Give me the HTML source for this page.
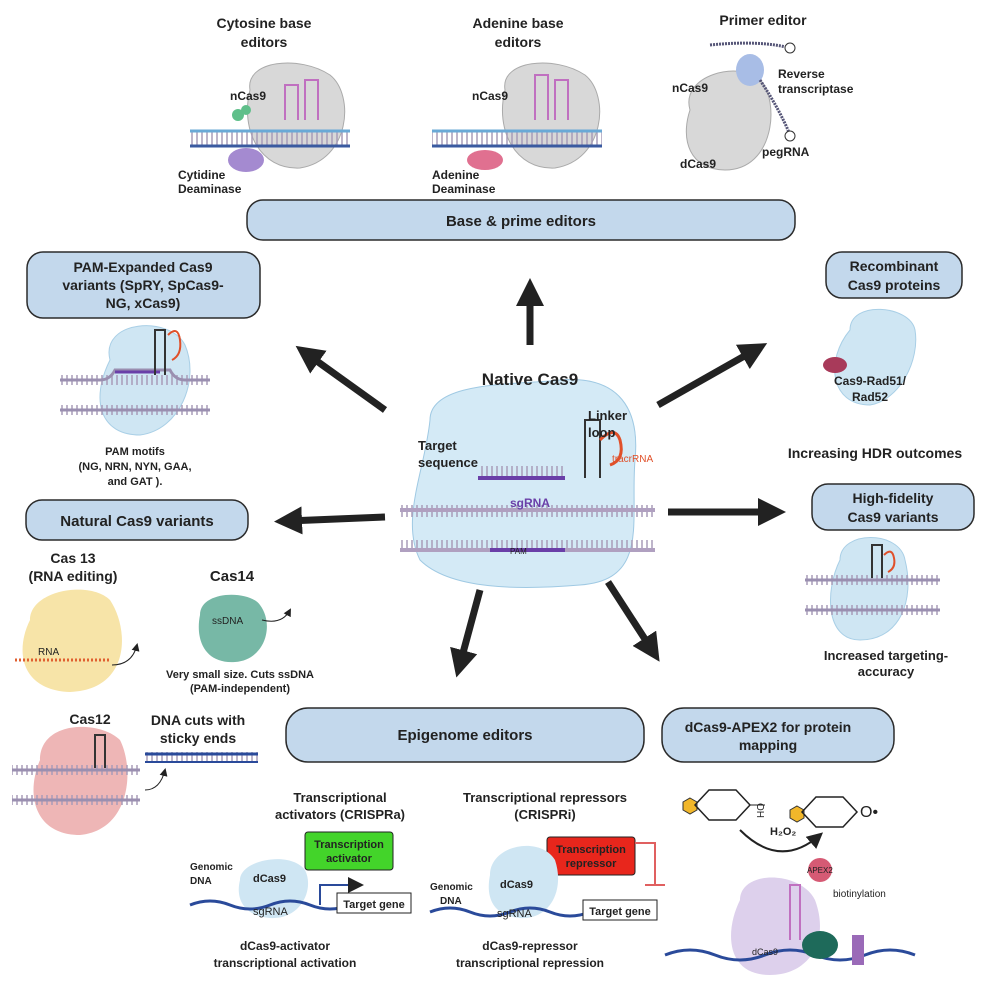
<!DOCTYPE html>
<html><head><meta charset="utf-8"><style>
body{margin:0;background:#fff}
svg{display:block}
text{font-family:"Liberation Sans",Arial,sans-serif;fill:#222}
.b{font-weight:bold}
.box{fill:#c3d8ec;stroke:#2b2b2b;stroke-width:1.5}
.ar{stroke:#222;stroke-width:7;fill:none}
.lad{stroke:#a89cb8;stroke-width:1.5}
</style></head><body>
<svg width="1000" height="1000" viewBox="0 0 1000 1000" xmlns="http://www.w3.org/2000/svg">
<defs>
<marker id="ah" markerWidth="4" markerHeight="4" refX="2" refY="2" orient="auto" markerUnits="strokeWidth"><path d="M0,0 L4,2 L0,4 z" fill="#222"/></marker>
<marker id="sa" markerWidth="8" markerHeight="8" refX="6" refY="4" orient="auto"><path d="M0,0 L8,4 L0,8 z" fill="#222"/></marker>
<pattern id="rung" width="5" height="10" patternUnits="userSpaceOnUse"><line x1="2" y1="0" x2="2" y2="10" stroke="#a89cb8" stroke-width="1.5"/></pattern>
</defs>

<!-- top editors -->
<text x="264" y="28" class="b" font-size="14" text-anchor="middle">Cytosine base</text>
<text x="264" y="47" class="b" font-size="14" text-anchor="middle">editors</text>
<path d="M250,90 C245,60 300,55 330,75 C355,95 350,160 300,168 C260,170 240,130 250,90z" fill="#d8d8d8" stroke="#aaa"/>
<rect x="190" y="131" width="160" height="14" fill="url(#rung)"/>
<line x1="190" y1="131" x2="350" y2="131" stroke="#6aa9d6" stroke-width="3"/>
<line x1="190" y1="146" x2="350" y2="146" stroke="#3a5aa0" stroke-width="3"/>
<ellipse cx="246" cy="160" rx="18" ry="12" fill="#a48ad0"/>
<circle cx="238" cy="115" r="6" fill="#5fbf8a"/><circle cx="246" cy="110" r="5" fill="#5fbf8a"/>
<path d="M285,120 V85 H298 V120 M305,120 V80 H318 V120" stroke="#c070c0" stroke-width="2" fill="none"/>
<text x="230" y="100" class="b" font-size="12">nCas9</text>
<text x="178" y="179" class="b" font-size="12">Cytidine</text>
<text x="178" y="193" class="b" font-size="12">Deaminase</text>

<text x="518" y="28" class="b" font-size="14" text-anchor="middle">Adenine base</text>
<text x="518" y="47" class="b" font-size="14" text-anchor="middle">editors</text>
<path d="M505,90 C500,60 555,55 585,75 C610,95 605,160 555,168 C515,170 495,130 505,90z" fill="#d8d8d8" stroke="#aaa"/>
<rect x="432" y="131" width="170" height="14" fill="url(#rung)"/>
<line x1="432" y1="131" x2="602" y2="131" stroke="#6aa9d6" stroke-width="3"/>
<line x1="432" y1="146" x2="602" y2="146" stroke="#3a5aa0" stroke-width="3"/>
<ellipse cx="485" cy="160" rx="18" ry="10" fill="#e07090"/>
<path d="M535,120 V75 H548 V120 M555,120 V80 H568 V120" stroke="#c070c0" stroke-width="2" fill="none"/>
<text x="472" y="100" class="b" font-size="12">nCas9</text>
<text x="432" y="179" class="b" font-size="12">Adenine</text>
<text x="432" y="193" class="b" font-size="12">Deaminase</text>

<text x="763" y="25" class="b" font-size="14" text-anchor="middle">Primer editor</text>
<path d="M690,110 C680,75 740,60 760,80 C780,100 775,170 725,170 C690,170 680,140 690,110z" fill="#d8d8d8" stroke="#aaa"/>
<ellipse cx="750" cy="70" rx="14" ry="16" fill="#a8bde6"/>
<path d="M710,45 Q760,40 790,48 M760,80 Q780,110 790,135" stroke="#557" stroke-width="3" fill="none" stroke-dasharray="2 1"/>
<circle cx="790" cy="48" r="5" fill="#fff" stroke="#333"/><circle cx="790" cy="136" r="5" fill="#fff" stroke="#333"/>
<text x="672" y="92" class="b" font-size="12">nCas9</text>
<text x="778" y="78" class="b" font-size="12">Reverse</text>
<text x="778" y="93" class="b" font-size="12">transcriptase</text>
<text x="680" y="168" class="b" font-size="12">dCas9</text>
<text x="762" y="156" class="b" font-size="12">pegRNA</text>

<rect class="box" x="247" y="200" width="548" height="40" rx="16"/>
<text x="521" y="226" class="b" font-size="15" text-anchor="middle">Base  &amp; prime editors</text>

<rect class="box" x="27" y="252" width="233" height="66" rx="16"/>
<text x="143" y="272" class="b" font-size="14" text-anchor="middle">PAM-Expanded Cas9</text>
<text x="143" y="290" class="b" font-size="14" text-anchor="middle">variants (SpRY, SpCas9-</text>
<text x="143" y="308" class="b" font-size="14" text-anchor="middle">NG, xCas9)</text>

<rect class="box" x="826" y="252" width="136" height="46" rx="16"/>
<text x="894" y="271" class="b" font-size="14" text-anchor="middle">Recombinant</text>
<text x="894" y="290" class="b" font-size="14" text-anchor="middle">Cas9 proteins</text>

<!-- PAM expanded illustration -->
<path d="M110,360 C100,320 170,315 185,345 C200,380 180,430 140,435 C100,435 90,400 110,360z" fill="#cfe6f3" stroke="#a9cfe6"/>
<rect x="60" y="375" width="150" height="10" fill="url(#rung)"/>
<rect x="60" y="405" width="150" height="10" fill="url(#rung)"/>
<path d="M60,380 H100 Q110,380 115,370 H170 Q175,380 185,380 H210" stroke="#9a8fb0" stroke-width="3" fill="none"/>
<path d="M60,410 H210" stroke="#9a8fb0" stroke-width="3" fill="none"/>
<line x1="115" y1="372" x2="160" y2="372" stroke="#6a3fa8" stroke-width="3"/>
<path d="M155,375 V330 H165 V375" stroke="#333" stroke-width="2" fill="none"/>
<path d="M168,335 q10,-10 12,5 q2,15 -8,20" stroke="#e0502a" stroke-width="2" fill="none"/>
<text x="135" y="455" class="b" font-size="11" text-anchor="middle">PAM motifs</text>
<text x="135" y="470" class="b" font-size="11" text-anchor="middle">(NG, NRN, NYN, GAA,</text>
<text x="135" y="485" class="b" font-size="11" text-anchor="middle">and GAT ).</text>

<!-- recombinant -->
<path d="M850,330 C850,300 910,305 915,330 C920,360 900,400 870,405 C830,405 825,360 850,330z" fill="#cfe6f3" stroke="#a9cfe6"/>
<ellipse cx="835" cy="365" rx="12" ry="8" fill="#a83a5a"/>
<text x="870" y="385" class="b" font-size="12" text-anchor="middle">Cas9-Rad51/</text>
<text x="870" y="401" class="b" font-size="12" text-anchor="middle">Rad52</text>
<text x="875" y="458" class="b" font-size="14" text-anchor="middle">Increasing HDR outcomes</text>

<!-- center -->
<path d="M430,420 C430,380 520,385 560,380 C620,375 640,410 635,460 C630,520 650,580 580,585 C520,590 450,590 420,560 C400,520 425,470 430,420z" fill="#d4eaf6" stroke="#9fc9e3"/>
<text x="530" y="385" class="b" font-size="17" text-anchor="middle">Native Cas9</text>
<rect x="400" y="505" width="255" height="12" fill="url(#rung)"/>
<rect x="400" y="540" width="255" height="12" fill="url(#rung)"/>
<line x1="400" y1="510" x2="655" y2="510" stroke="#b0a0c0" stroke-width="4"/>
<line x1="400" y1="550" x2="655" y2="550" stroke="#b0a0c0" stroke-width="4"/>
<rect x="478" y="466" width="87" height="12" fill="url(#rung)"/>
<line x1="478" y1="478" x2="565" y2="478" stroke="#6a3fa8" stroke-width="4"/>
<line x1="490" y1="550" x2="565" y2="550" stroke="#6a3fa8" stroke-width="4"/>
<path d="M585,478 V420 H600 V478" stroke="#333" stroke-width="2" fill="none"/>
<path d="M600,440 q15,-15 20,0 q5,20 -10,25" stroke="#e0502a" stroke-width="3" fill="none"/>
<text x="418" y="450" class="b" font-size="13">Target</text>
<text x="418" y="467" class="b" font-size="13">sequence</text>
<text x="588" y="420" class="b" font-size="13">Linker</text>
<text x="588" y="437" class="b" font-size="13">loop</text>
<text x="612" y="462" font-size="10" style="fill:#e0502a">tracrRNA</text>
<text x="510" y="507" class="b" font-size="12" style="fill:#6a3fa8">sgRNA</text>
<text x="510" y="554" font-size="8">PAM</text>

<!-- arrows -->
<line class="ar" x1="530" y1="345" x2="530" y2="292" marker-end="url(#ah)"/>
<line class="ar" x1="385" y1="410" x2="307" y2="354" marker-end="url(#ah)"/>
<line class="ar" x1="658" y1="405" x2="755" y2="350" marker-end="url(#ah)"/>
<line class="ar" x1="385" y1="517" x2="288" y2="521" marker-end="url(#ah)"/>
<line class="ar" x1="668" y1="512" x2="772" y2="512" marker-end="url(#ah)"/>
<line class="ar" x1="480" y1="590" x2="460" y2="664" marker-end="url(#ah)"/>
<line class="ar" x1="608" y1="582" x2="652" y2="650" marker-end="url(#ah)"/>

<rect class="box" x="26" y="500" width="222" height="40" rx="16"/>
<text x="137" y="526" class="b" font-size="15" text-anchor="middle">Natural Cas9 variants</text>

<rect class="box" x="812" y="484" width="162" height="46" rx="16"/>
<text x="893" y="503" class="b" font-size="14" text-anchor="middle">High-fidelity</text>
<text x="893" y="522" class="b" font-size="14" text-anchor="middle">Cas9 variants</text>

<!-- high fidelity illus -->
<path d="M840,560 C840,530 900,530 905,560 C915,600 900,640 860,640 C825,640 825,590 840,560z" fill="#cfe6f3" stroke="#a9cfe6"/>
<rect x="805" y="575" width="135" height="10" fill="url(#rung)"/>
<rect x="805" y="605" width="135" height="10" fill="url(#rung)"/>
<line x1="805" y1="580" x2="940" y2="580" stroke="#9a8fb0" stroke-width="3"/>
<line x1="805" y1="610" x2="940" y2="610" stroke="#9a8fb0" stroke-width="3"/>
<path d="M872,578 V545 H882 V578" stroke="#333" stroke-width="2" fill="none"/>
<path d="M884,555 q8,-8 10,3 q2,10 -6,14" stroke="#e0502a" stroke-width="2" fill="none"/>
<text x="886" y="660" class="b" font-size="13" text-anchor="middle">Increased targeting-</text>
<text x="886" y="676" class="b" font-size="13" text-anchor="middle">accuracy</text>

<!-- cas13 -->
<text x="73" y="563" class="b" font-size="14" text-anchor="middle">Cas 13</text>
<text x="73" y="581" class="b" font-size="14" text-anchor="middle">(RNA editing)</text>
<path d="M30,620 C30,590 90,580 110,600 C130,630 130,690 70,692 C20,690 15,650 30,620z" fill="#f7e4a8"/>
<line x1="15" y1="660" x2="110" y2="660" stroke="#e06030" stroke-width="3" stroke-dasharray="2 2"/>
<text x="38" y="655" font-size="10">RNA</text>
<path d="M112,665 q20,0 25,-20" stroke="#222" fill="none" marker-end="url(#sa)"/>
<!-- cas14 -->
<text x="232" y="581" class="b" font-size="15" text-anchor="middle">Cas14</text>
<path d="M200,615 C200,590 250,590 260,605 C275,625 265,660 235,662 C205,664 195,640 200,615z" fill="#77b8a6"/>
<text x="212" y="624" font-size="10">ssDNA</text>
<path d="M262,620 q20,5 28,-10" stroke="#222" fill="none" marker-end="url(#sa)"/>
<text x="240" y="678" class="b" font-size="11" text-anchor="middle">Very small size. Cuts ssDNA</text>
<text x="240" y="692" class="b" font-size="11" text-anchor="middle">(PAM-independent)</text>
<!-- cas12 -->
<text x="90" y="724" class="b" font-size="14" text-anchor="middle">Cas12</text>
<path d="M40,760 C40,720 100,720 120,740 C135,770 130,830 80,835 C35,835 25,795 40,760z" fill="#eeb6b6"/>
<rect x="12" y="765" width="128" height="10" fill="url(#rung)"/>
<rect x="12" y="795" width="128" height="10" fill="url(#rung)"/>
<line x1="12" y1="770" x2="140" y2="770" stroke="#9a8fb0" stroke-width="3"/>
<line x1="12" y1="800" x2="140" y2="800" stroke="#9a8fb0" stroke-width="3"/>
<path d="M95,768 V735 H105 V768" stroke="#333" stroke-width="2" fill="none"/>
<text x="198" y="725" class="b" font-size="14" text-anchor="middle">DNA cuts with</text>
<text x="198" y="743" class="b" font-size="14" text-anchor="middle">sticky ends</text>
<rect x="145" y="752" width="113" height="10" fill="url(#rung)"/>
<line x1="145" y1="754" x2="258" y2="754" stroke="#2a4a9a" stroke-width="3"/>
<line x1="145" y1="762" x2="258" y2="762" stroke="#2a4a9a" stroke-width="2"/>
<path d="M145,790 q15,0 20,-20" stroke="#222" fill="none" marker-end="url(#sa)"/>

<rect class="box" x="286" y="708" width="358" height="54" rx="22"/>
<text x="465" y="740" class="b" font-size="15" text-anchor="middle">Epigenome editors</text>
<rect class="box" x="662" y="708" width="232" height="54" rx="22"/>
<text x="768" y="732" class="b" font-size="14" text-anchor="middle">dCas9-APEX2 for protein</text>
<text x="768" y="750" class="b" font-size="14" text-anchor="middle">mapping</text>

<!-- CRISPRa -->
<text x="340" y="802" class="b" font-size="13" text-anchor="middle">Transcriptional</text>
<text x="340" y="819" class="b" font-size="13" text-anchor="middle">activators (CRISPRa)</text>
<rect x="305" y="832" width="88" height="38" rx="3" fill="#43d42a" stroke="#222"/>
<text x="349" y="848" class="b" font-size="11" text-anchor="middle">Transcription</text>
<text x="349" y="862" class="b" font-size="11" text-anchor="middle">activator</text>
<path d="M240,880 C240,860 290,850 305,870 C315,890 300,920 270,918 C245,916 235,900 240,880z" fill="#cfe6f3"/>
<path d="M190,905 q20,-8 40,0 t40,0 t40,0 t40,0" stroke="#2a4a9a" stroke-width="3" fill="none"/>
<text x="190" y="870" class="b" font-size="10">Genomic</text><text x="190" y="884" class="b" font-size="10">DNA</text>
<text x="253" y="882" class="b" font-size="11">dCas9</text>
<text x="253" y="915" font-size="11">sgRNA</text>
<path d="M320,905 V885 H360" stroke="#2a4a9a" stroke-width="2" fill="none" marker-end="url(#sa)"/>
<rect x="337" y="893" width="74" height="20" fill="#fff" stroke="#222"/>
<text x="374" y="908" class="b" font-size="11" text-anchor="middle">Target gene</text>
<text x="285" y="950" class="b" font-size="12" text-anchor="middle">dCas9-activator</text>
<text x="285" y="967" class="b" font-size="12" text-anchor="middle">transcriptional activation</text>

<!-- CRISPRi -->
<text x="545" y="802" class="b" font-size="13" text-anchor="middle">Transcriptional repressors</text>
<text x="545" y="819" class="b" font-size="13" text-anchor="middle">(CRISPRi)</text>
<rect x="547" y="837" width="88" height="38" rx="3" fill="#e8261c" stroke="#222"/>
<text x="591" y="853" class="b" font-size="11" text-anchor="middle">Transcription</text>
<text x="591" y="867" class="b" font-size="11" text-anchor="middle">repressor</text>
<path d="M635,843 H655 V885 M645,885 H665" stroke="#e06060" stroke-width="2" fill="none"/>
<path d="M490,875 C490,845 540,835 555,860 C565,890 550,920 520,918 C495,916 485,900 490,875z" fill="#cfe6f3"/>
<path d="M430,912 q20,-8 40,0 t40,0 t40,0 t40,0" stroke="#2a4a9a" stroke-width="3" fill="none"/>
<text x="430" y="890" class="b" font-size="10">Genomic</text><text x="440" y="904" class="b" font-size="10">DNA</text>
<text x="500" y="888" class="b" font-size="11">dCas9</text>
<text x="497" y="917" font-size="11">sgRNA</text>
<rect x="583" y="900" width="74" height="20" fill="#fff" stroke="#222"/>
<text x="620" y="915" class="b" font-size="11" text-anchor="middle">Target gene</text>
<text x="530" y="950" class="b" font-size="12" text-anchor="middle">dCas9-repressor</text>
<text x="530" y="967" class="b" font-size="12" text-anchor="middle">transcriptional repression</text>

<!-- APEX -->
<polygon points="690,798 697,802 697,810 690,814 683,810 683,802" fill="#f2b72a" stroke="#333"/>
<polygon points="709,790 736,790 750,805 736,820 709,820 695,805" fill="none" stroke="#222" stroke-width="1.5"/>
<line x1="750" y1="805" x2="765" y2="805" stroke="#222"/><text x="760" y="810" font-size="10" transform="rotate(90 762 805)">OH</text>
<polygon points="797,806 804,810 804,818 797,822 790,818 790,810" fill="#f2b72a" stroke="#333"/>
<polygon points="816,797 843,797 857,812 843,827 816,827 802,812" fill="none" stroke="#222" stroke-width="1.5"/>
<text x="860" y="817" font-size="16">O•</text>
<text x="770" y="835" class="b" font-size="11">H₂O₂</text>
<path d="M740,830 Q780,870 820,835" stroke="#222" stroke-width="2" fill="none" marker-end="url(#sa)"/>
<path d="M740,900 C740,870 800,870 815,900 C830,940 810,975 770,975 C725,975 725,930 740,900z" fill="#ddd0ec"/>
<path d="M790,940 V885 H800 V940" stroke="#c070c0" stroke-width="2" fill="none"/>
<circle cx="820" cy="870" r="12" fill="#d65a74"/><text x="807" y="873" font-size="8">APEX2</text>
<path d="M665,955 q25,-10 50,0 t50,0 t50,0 t50,0 t50,0" stroke="#2a4a9a" stroke-width="3" fill="none"/>
<ellipse cx="820" cy="945" rx="18" ry="14" fill="#1e6a5a"/>
<rect x="852" y="935" width="12" height="30" fill="#9a6ab8"/>
<text x="833" y="897" font-size="10">biotinylation</text>
<text x="752" y="955" font-size="9">dCas9</text>
</svg>
</body></html>
